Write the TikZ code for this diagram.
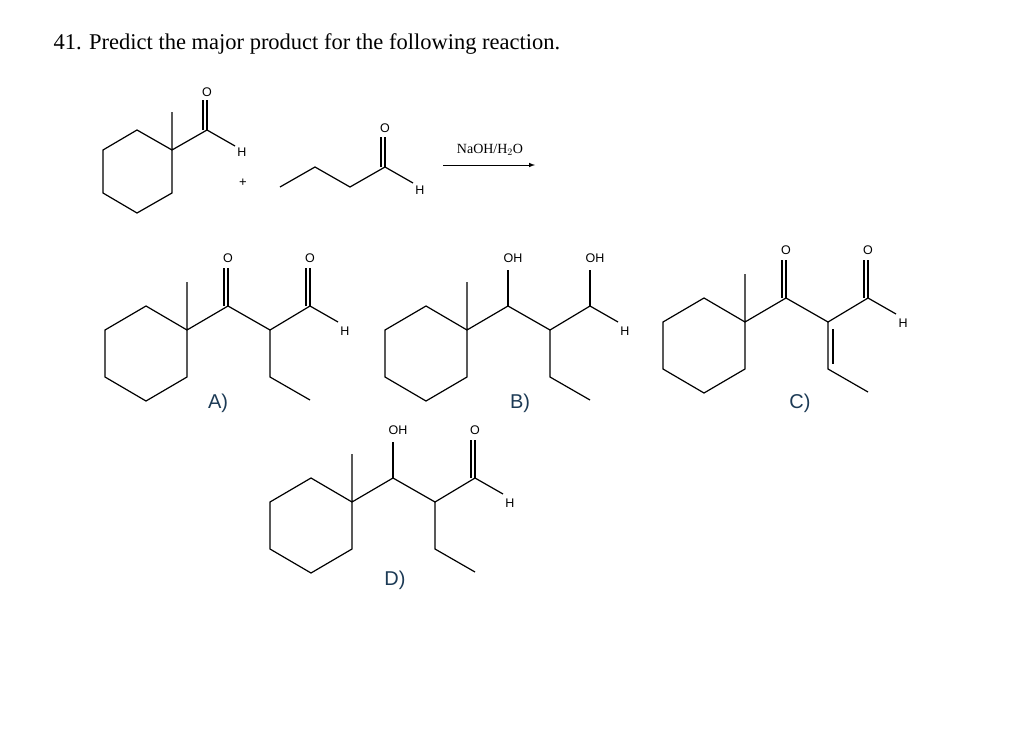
\documentclass[tikz,border=0pt]{standalone}
\usepackage{fontspec}
\setmainfont{Liberation Serif}
\setsansfont{Liberation Sans}
\definecolor{labc}{HTML}{1C3A55}
\begin{document}
\begin{tikzpicture}[x=1pt,y=-1pt,
  bond/.style={line width=1.2pt},
  atom/.style={font=\sffamily\fontsize{12.5}{13}\selectfont,inner sep=0.5pt},
  lab/.style={font=\sffamily\fontsize{20}{22}\selectfont,text=labc},
  title/.style={font=\fontsize{22.5}{26}\selectfont,anchor=west}]
\useasboundingbox (0,0) rectangle (1024,747);
\node[title] (t) at (50,44) {41. Predict the major product for the following reaction.};
% reactant 1
\draw[bond] (103,150)--(137,130)--(172,150)--(172,193)--(137,213)--(103,193)--cycle;
\draw[bond] (172,150)--(172,112) (172,150)--(207,130)--(235,146);
\draw[bond] (207,130)--(207,100) (203,130)--(203,100);
\node[atom] (o1) at (207,92) {O};
\node[atom] (h1) at (242,152) {H};
\node[font=\sffamily\fontsize{13}{14}\selectfont] (plus) at (243,183) {+};
% reactant 2
\draw[bond] (280,187)--(315,167)--(350,187)--(385,167)--(413,183);
\draw[bond] (385,167)--(385,137) (381,167)--(381,137);
\node[atom] (o2) at (385,128) {O};
\node[atom] (h2) at (420,190) {H};
\coordinate (a1) at (443,165); \coordinate (a2) at (535,165);
\draw[line width=1pt,-latex] (a1)--(a2);
\node[font=\fontsize{14}{16}\selectfont] (cond) at (490,150) {NaOH/H$_2$O};
% products
\newcommand\skel{%
  \draw[bond] (105,330)--(146,306)--(187,330)--(187,377)--(146,401)--(105,377)--cycle;
  \draw[bond] (187,330)--(187,282) (187,330)--(228,306)--(270,330)--(310,306)--(338,322);
  \draw[bond] (270,330)--(270,377)--(310,400);}
\newcommand\carbO[2]{\draw[bond] (#1,306)--(#1,268) (#1-4,306)--(#1-4,268);
  \node[atom] (#2) at (#1,258) {O};}
\newcommand\carbOH[2]{\draw[bond] (#1,306)--(#1,270);
  \node[atom] (#2) at (#1+5,258) {OH};}
\begin{scope}
 \skel \carbO{228}{aO1} \carbO{310}{aO2}
 \node[atom] (aH) at (345,331) {H};
 \node[lab] (A) at (218,403) {A)};
\end{scope}
\begin{scope}[shift={(280,0)}]
 \skel \carbOH{228}{bO1} \carbOH{310}{bO2}
 \node[atom] (bH) at (345,331) {H};
 \node[lab] (B) at (240,403) {B)};
\end{scope}
\begin{scope}[shift={(558,-8)}]
 \skel \carbO{228}{cO1} \carbO{310}{cO2}
 \draw[bond] (275,337)--(275,372);
 \node[atom] (cH) at (345,331) {H};
 \node[lab] (C) at (242,411) {C)};
\end{scope}
\begin{scope}[shift={(165,172)}]
 \skel \carbOH{228}{dO1} \carbO{310}{dO2}
 \node[atom] (dH) at (345,331) {H};
 \node[lab] (D) at (230,408) {D)};
\end{scope}
\end{tikzpicture}
\end{document}
